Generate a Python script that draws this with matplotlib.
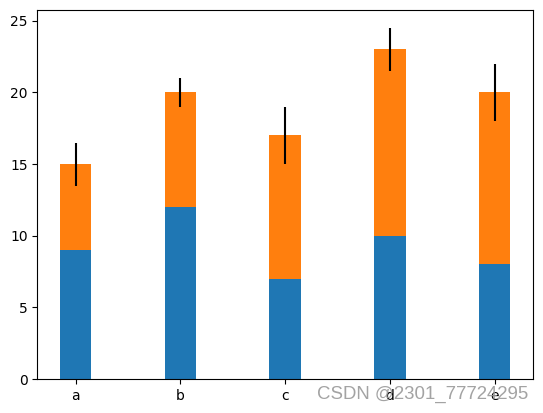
import matplotlib
matplotlib.use("Agg")
import matplotlib.pyplot as plt
import numpy as np

labels = ['a', 'b', 'c', 'd', 'e']
bottom_vals = [9, 12, 7, 10, 8]
top_vals = [6, 8, 10, 13, 12]
top_err = [1.5, 1, 2, 1.5, 2]

fig = plt.figure(figsize=(5.43, 4.13), dpi=100)
ax = fig.add_axes([0.069, 0.0823, 0.9125, 0.8927])

x = np.arange(len(labels))
width = 0.3
ax.bar(x, bottom_vals, width)
ax.bar(x, top_vals, width, bottom=bottom_vals, yerr=top_err)
ax.set_xticks(x)
ax.set_xticklabels(labels)

# watermark
fig.text(0.972, 0.046, 'CSDN @2301_77724295', ha='right', va='center',
         fontsize=13.4, family='Liberation Sans', color='#999999', alpha=0.9)

fig.savefig('out.png', dpi=100)
